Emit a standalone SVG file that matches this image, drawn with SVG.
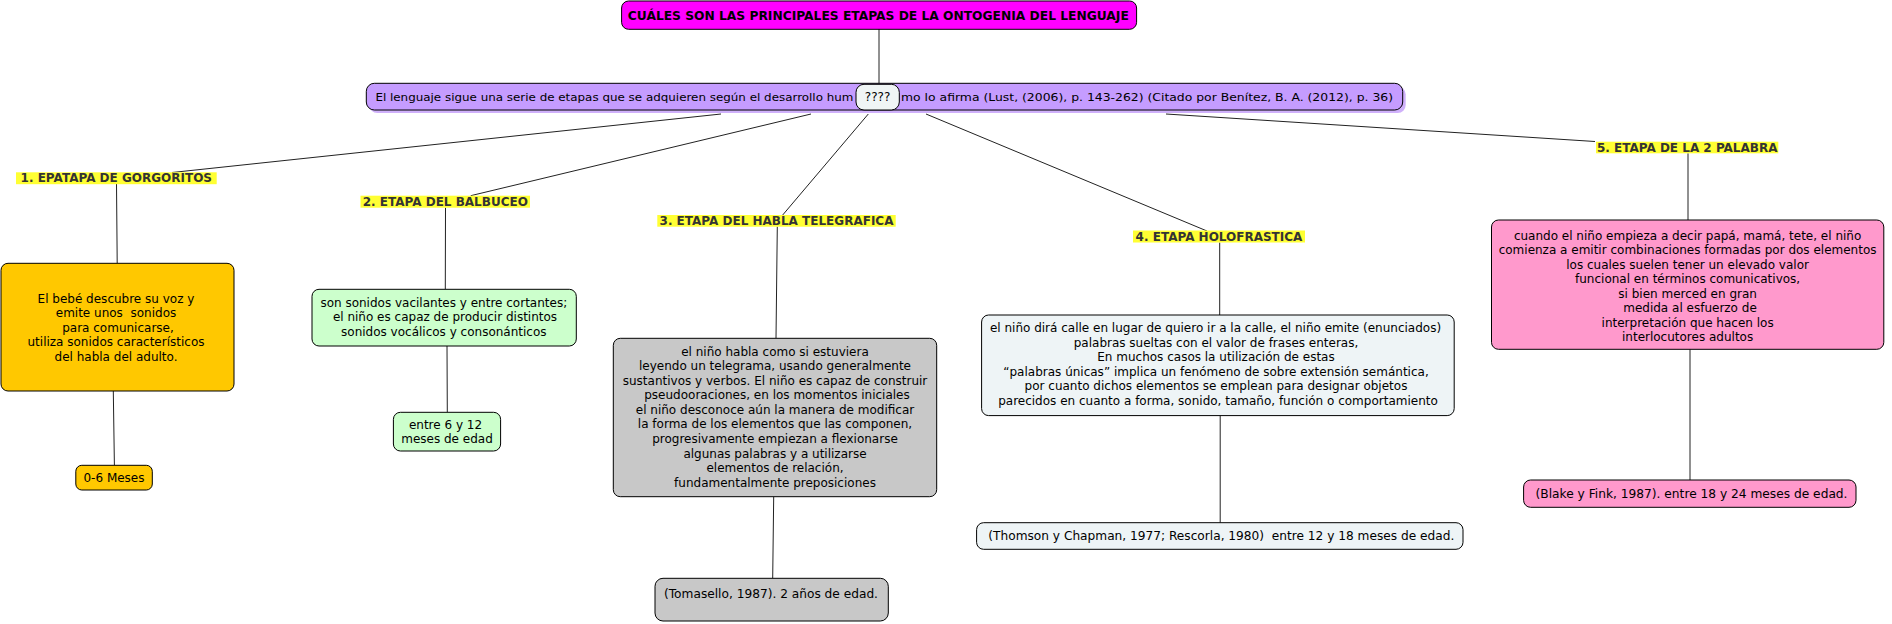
<svg xmlns="http://www.w3.org/2000/svg" width="1892" height="624" viewBox="0 0 1892 624">
<style>
.bx{stroke:#000;stroke-width:1}
.t{font-family:"DejaVu Sans","Verdana",sans-serif;font-size:12px;fill:#000;text-anchor:middle}
.lb{font-family:"DejaVu Sans","Verdana",sans-serif;font-size:12px;font-weight:bold;fill:#333;text-anchor:middle}
.hl{fill:#FFFF33}
.cn line{stroke:#222;stroke-width:1}
</style>
<rect width="1892" height="624" fill="#fff"/>
<g class="cn">
<line x1="879" y1="29" x2="879" y2="84"/>
<line x1="721" y1="114" x2="172" y2="172.5"/>
<line x1="811" y1="114" x2="470.7" y2="195.7"/>
<line x1="868.3" y1="114" x2="782.7" y2="215"/>
<line x1="926" y1="114" x2="1207" y2="231"/>
<line x1="1166" y1="114" x2="1595" y2="141.5"/>
<line x1="116.5" y1="184" x2="117.2" y2="263.3"/>
<line x1="113.3" y1="391" x2="114.4" y2="465.3"/>
<line x1="445.5" y1="207.7" x2="445.3" y2="289.3"/>
<line x1="447" y1="346" x2="447.3" y2="412.3"/>
<line x1="777.3" y1="226.7" x2="776" y2="338.3"/>
<line x1="773.7" y1="496.7" x2="772.7" y2="578.3"/>
<line x1="1219.7" y1="242.5" x2="1219.7" y2="315"/>
<line x1="1220.2" y1="415.6" x2="1220.2" y2="522.7"/>
<line x1="1688" y1="153.3" x2="1688" y2="220"/>
<line x1="1690" y1="349.3" x2="1690" y2="480"/>
</g>
<g id="title">
<rect class="bx" x="621.6" y="1" width="515" height="28.3" rx="7" fill="#FF00FF"/>
<text class="t" x="878.3" y="20.4" font-weight="bold" textLength="501" lengthAdjust="spacingAndGlyphs">CUÁLES SON LAS PRINCIPALES ETAPAS DE LA ONTOGENIA DEL LENGUAJE</text>
</g>
<g id="intro">
<rect x="369.3" y="86.3" width="1036.4" height="26.7" rx="8" fill="#CFB0FA"/>
<rect class="bx" x="366.3" y="83.3" width="1036.4" height="26.7" rx="8" fill="#C59CFF"/>
<text class="t" x="375.4" y="100.5" style="text-anchor:start;font-size:11px" textLength="478" lengthAdjust="spacingAndGlyphs">El lenguaje sigue una serie de etapas que se adquieren según el desarrollo hum</text>
<text class="t" x="901" y="100.5" style="text-anchor:start;font-size:11px" textLength="492" lengthAdjust="spacingAndGlyphs">mo lo afirma (Lust, (2006), p. 143-262) (Citado por Benítez, B. A. (2012), p. 36)</text>
</g>
<g id="q">
<rect class="bx" x="856" y="84.3" width="43.3" height="25.7" rx="8" fill="#F0F5F5"/>
<text class="t" x="877.6" y="100.7">????</text>
</g>
<g id="label1">
<rect class="hl" x="16" y="172.3" width="200.7" height="11.9"/>
<text class="lb" x="116.3" y="182.2">1. EPATAPA DE GORGORITOS</text>
</g>
<g id="label2">
<rect class="hl" x="360.5" y="195.7" width="169.5" height="12"/>
<text class="lb" x="445.3" y="205.7">2. ETAPA DEL BALBUCEO</text>
</g>
<g id="label3">
<rect class="hl" x="657.3" y="215" width="238.4" height="11.7"/>
<text class="lb" x="776.5" y="224.9">3. ETAPA DEL HABLA TELEGRAFICA</text>
</g>
<g id="label4">
<rect class="hl" x="1133" y="230.5" width="172" height="12"/>
<text class="lb" x="1219" y="240.5">4. ETAPA HOLOFRASTICA</text>
</g>
<g id="label5">
<rect class="hl" x="1596" y="141.7" width="182.3" height="11.6"/>
<text class="lb" x="1687.2" y="151.6">5. ETAPA DE LA 2 PALABRA</text>
</g>
<g id="box1">
<rect class="bx" x="1" y="263.3" width="233" height="127.7" rx="7" fill="#FFC800"/>
<text class="t" y="302.5" xml:space="preserve"><tspan x="116" dy="0">El bebé descubre su voz y</tspan><tspan x="116" dy="14.6">emite unos  sonidos</tspan><tspan x="118" dy="14.6">para comunicarse,</tspan><tspan x="116" dy="14.6">utiliza sonidos característicos</tspan><tspan x="116" dy="14.6">del habla del adulto.</tspan></text>
</g>
<g id="box1b">
<rect class="bx" x="75.8" y="465.3" width="76.5" height="24.7" rx="6" fill="#FFC800"/>
<text class="t" x="114" y="481.5">0-6 Meses</text>
</g>
<g id="box2">
<rect class="bx" x="312" y="289.3" width="264.3" height="56.7" rx="7" fill="#CCFFCC"/>
<text class="t" y="306.7"><tspan x="443.8" dy="0">son sonidos vacilantes y entre cortantes;</tspan><tspan x="445" dy="14.6">el niño es capaz de producir distintos</tspan><tspan x="443.8" dy="14.6">sonidos vocálicos y consonánticos</tspan></text>
</g>
<g id="box2b">
<rect class="bx" x="393.4" y="412.3" width="107.2" height="38.7" rx="7" fill="#CCFFCC"/>
<text class="t" y="429"><tspan x="445.5" dy="0">entre 6 y 12</tspan><tspan x="447" dy="14.4">meses de edad</tspan></text>
</g>
<g id="box3">
<rect class="bx" x="613.3" y="338.3" width="323.4" height="158.4" rx="7" fill="#C8C8C8"/>
<text class="t" y="355.7"><tspan x="775" dy="0">el niño habla como si estuviera</tspan><tspan x="775" dy="14.55">leyendo un telegrama, usando generalmente</tspan><tspan x="775" dy="14.55">sustantivos y verbos. El niño es capaz de construir</tspan><tspan x="777" dy="14.55">pseudooraciones, en los momentos iniciales</tspan><tspan x="775" dy="14.55">el niño desconoce aún la manera de modificar</tspan><tspan x="775" dy="14.55">la forma de los elementos que las componen,</tspan><tspan x="775" dy="14.55">progresivamente empiezan a flexionarse</tspan><tspan x="775" dy="14.55">algunas palabras y a utilizarse</tspan><tspan x="775" dy="14.55">elementos de relación,</tspan><tspan x="775" dy="14.55">fundamentalmente preposiciones</tspan></text>
</g>
<g id="box3b">
<rect class="bx" x="655" y="578.3" width="233.3" height="42.7" rx="8" fill="#C8C8C8"/>
<text class="t" x="771" y="597.5" textLength="214" lengthAdjust="spacingAndGlyphs">(Tomasello, 1987). 2 años de edad.</text>
</g>
<g id="box4">
<rect class="bx" x="981.6" y="315" width="472.6" height="100.6" rx="7" fill="#EEF4F6"/>
<text class="t" y="332.4"><tspan x="1215.5" dy="0">el niño dirá calle en lugar de quiero ir a la calle, el niño emite (enunciados)</tspan><tspan x="1216" dy="14.46">palabras sueltas con el valor de frases enteras,</tspan><tspan x="1216" dy="14.46">En muchos casos la utilización de estas</tspan><tspan x="1216" dy="14.46">“palabras únicas” implica un fenómeno de sobre extensión semántica,</tspan><tspan x="1216" dy="14.46">por cuanto dichos elementos se emplean para designar objetos</tspan><tspan x="1218" dy="14.46">parecidos en cuanto a forma, sonido, tamaño, función o comportamiento</tspan></text>
</g>
<g id="box4b">
<rect class="bx" x="976.6" y="522.7" width="486.4" height="26.6" rx="7" fill="#EEF4F6"/>
<text class="t" x="1221.3" y="540" xml:space="preserve" textLength="466" lengthAdjust="spacingAndGlyphs">(Thomson y Chapman, 1977; Rescorla, 1980)  entre 12 y 18 meses de edad.</text>
</g>
<g id="box5">
<rect class="bx" x="1491.5" y="220" width="392.3" height="129.3" rx="7" fill="#FF99CC"/>
<text class="t" y="239.7"><tspan x="1687.6" dy="0">cuando el niño empieza a decir papá, mamá, tete, el niño</tspan><tspan x="1687.6" dy="14.5">comienza a emitir combinaciones formadas por dos elementos</tspan><tspan x="1687.6" dy="14.5">los cuales suelen tener un elevado valor</tspan><tspan x="1687.6" dy="14.5">funcional en términos comunicativos,</tspan><tspan x="1687.6" dy="14.5">si bien merced en gran</tspan><tspan x="1690" dy="14.5">medida al esfuerzo de</tspan><tspan x="1687.6" dy="14.5">interpretación que hacen los</tspan><tspan x="1687.6" dy="14.5">interlocutores adultos</tspan></text>
</g>
<g id="box5b">
<rect class="bx" x="1523.6" y="480" width="332.4" height="27.3" rx="7" fill="#FF99CC"/>
<text class="t" x="1691.5" y="498.3" textLength="312" lengthAdjust="spacingAndGlyphs">(Blake y Fink, 1987). entre 18 y 24 meses de edad.</text>
</g>
</svg>
